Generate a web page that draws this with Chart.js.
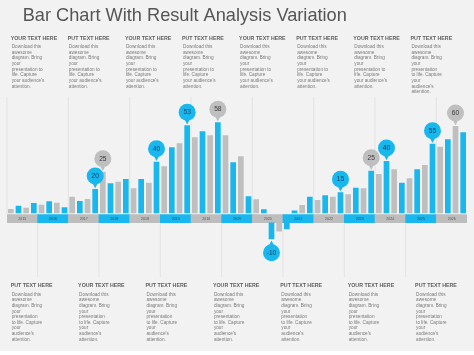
<!DOCTYPE html>
<html><head><meta charset="utf-8">
<script src="https://cdn.jsdelivr.net/npm/chart.js@4.4.0/dist/chart.umd.min.js"></script>
<style>html,body{margin:0;padding:0;background:#fff;}canvas{display:block;}</style>
</head><body>
<canvas id="c" width="474" height="355"></canvas>
<script>
// ---------- DATA ----------
const titleText = 'Bar Chart With Result Analysis Variation';
const yearLabels = ['2015','2016','2017','2018','2018','2015','2016','2019','2020','2021','2022','2023','2024','2025','2026'];
const barValues = [
  2.9, 5.1, 3.7, 6.9,   5.7, 8.0, 7.1, 4.0,   11.1, 8.2, 9.5, 16.2,
  27.7, 20.0, 21.1, 22.9,   16.7, 22.9, 20.4, 34.4,   31.3, 44.0, 46.7, 58.7,
  50.7, 54.7, 52.0, 60.7,   52.0, 34.0, 38.0, 11.3,   9.3, 2.7, -11.1, -6.0,
  -4.4, 1.8, 5.5, 11.1,   8.9, 12.0, 11.1, 14.0,   12.7, 17.1, 16.7, 28.4,
  26.2, 34.9, 29.3, 20.4,   23.3, 29.3, 32.2, 46.4,   44.4, 49.3, 58.2, 54.0
];
// which series each bar belongs to (A = grey series, B = blue series)
const barSeries = ('ABABABABABABABABABABABABABABABABAB' + 'BABB' + 'ABABABABABABABABABABAB').split('');
const categories = barValues.map((_, i) => yearLabels[Math.floor(i / 4)] + ' #' + (i % 4 + 1));
const calloutIndex  = [11, 12, 19, 23, 27, 34, 43, 47, 49, 55, 58];
const calloutText   = ['20','25','40','53','58','-10','15','25','40','55','60'];
const calloutSeries = ['B','A','B','B','A','B','B','A','B','B','A'];
const topHeads = ['YOUR TEXT HERE','PUT TEXT HERE','YOUR TEXT HERE','PUT TEXT HERE','YOUR TEXT HERE','PUT TEXT HERE','YOUR TEXT HERE','PUT TEXT HERE'];
const bottomHeads = ['PUT TEXT HERE','YOUR TEXT HERE','PUT TEXT HERE','YOUR TEXT HERE','PUT TEXT HERE','YOUR TEXT HERE','PUT TEXT HERE'];
const bodyShort = ['Download this','awesome','diagram. Bring','your','presentation to','life. Capture',"your audience's",'attention.'];
const bodyLong  = ['Download this','awesome','diagram. Bring','your','presentation','to life. Capture','your',"audience's",'attention.'];

// ---------- STYLE / LAYOUT ----------
const COLORS = { A: '#bfbfbf', B: '#18b7ee' };
const BAND_COLORS = ['#bdbdbd', '#18b7ee'];
const GAP = 6.2, BAND_TOP = -0.8, BAND_BOTTOM = -6.2;
const FONT = '"Liberation Sans", Arial, sans-serif';

function drawBlock(c, x, yHead, head, lines, yBody) {
  c.textAlign = 'left'; c.textBaseline = 'middle';
  c.fillStyle = '#5e5e5e'; c.font = 'bold 5.3px ' + FONT;
  c.fillText(head, x, yHead);
  c.fillStyle = '#7a7a7a'; c.font = '4.7px ' + FONT;
  lines.forEach((l, i) => c.fillText(l, x + 1, yBody + i * 5.65));
}

const decor = {
  id: 'decor',
  beforeDraw(chart) {
    const c = chart.ctx; c.save();
    c.fillStyle = '#ffffff'; c.fillRect(0, 0, 474, 355);
    c.fillStyle = '#f2f2f2'; c.fillRect(0, 0, 474, 351);
    c.fillStyle = '#555555'; c.font = '18.2px ' + FONT; c.textBaseline = 'alphabetic'; c.textAlign = 'left';
    c.fillText(titleText, 22.7, 20.5);
    topHeads.forEach((h, k) => drawBlock(c, 10.7 + 57.1 * k, 38.3, h, k === 7 ? bodyLong : bodyShort, 46.7));
    bottomHeads.forEach((h, k) => drawBlock(c, 10.7 + 67.4 * k, 286, h, bodyLong, 294.3));
    c.restore();
  },
  beforeDatasetsDraw(chart) {
    const c = chart.ctx, xs = chart.scales.xYear;
    const w = xs.getPixelForValue(1) - xs.getPixelForValue(0);
    c.save(); c.strokeStyle = '#dcdcdc'; c.lineWidth = 0.7;
    for (let j = 0; j <= yearLabels.length; j++) {
      const x = xs.getPixelForValue(0) - w / 2 + j * w;
      c.beginPath();
      if (j % 2 === 0) { c.moveTo(x, 97); c.lineTo(x, 214); }
      else if (j < yearLabels.length) { c.moveTo(x, 223); c.lineTo(x, 277); }
      c.stroke();
    }
    c.restore();
  },
  afterDatasetsDraw(chart) {
    const c = chart.ctx; c.save();
    const band = chart.getDatasetMeta(1).data;
    c.font = '3.6px ' + FONT; c.textAlign = 'center'; c.textBaseline = 'middle';
    band.forEach((el, i) => {
      c.fillStyle = i % 2 ? '#1d4a6b' : '#555';
      c.fillText(yearLabels[i], el.x, (el.y + el.base) / 2);
    });
    const bars = chart.getDatasetMeta(0).data;
    calloutIndex.forEach((idx, k) => {
      const el = bars[idx];
      const up = barValues[idx] >= 0;
      const cy = up ? el.y - 13 : el.y + 13.5;
      const r = 8.5;
      c.fillStyle = COLORS[calloutSeries[k]];
      c.beginPath(); c.arc(el.x, cy, r, 0, Math.PI * 2); c.fill();
      c.beginPath();
      const d = up ? 1 : -1;
      c.moveTo(el.x - 3, cy + d * 6.5); c.lineTo(el.x + 3, cy + d * 6.5); c.lineTo(el.x, cy + d * 12.3);
      c.closePath(); c.fill();
      c.fillStyle = calloutSeries[k] === 'B' ? '#163c5a' : '#3a3a3a';
      c.font = '6.6px ' + FONT; c.textAlign = 'center'; c.textBaseline = 'middle';
      c.fillText(calloutText[k], el.x, cy + 0.3);
    });
    c.restore();
  }
};

new Chart(document.getElementById('c'), {
  type: 'bar',
  data: {
    labels: categories,
    datasets: [
      {
        label: 'Result',
        data: barValues.map(v => v >= 0 ? [0, v] : [-GAP, -GAP + v]),
        backgroundColor: barSeries.map(s => COLORS[s]),
        xAxisID: 'x', yAxisID: 'y',
        barPercentage: 0.74, categoryPercentage: 1, grouped: false, borderWidth: 0
      },
      {
        label: 'Years',
        data: yearLabels.map(() => [BAND_TOP, BAND_BOTTOM]),
        backgroundColor: yearLabels.map((_, i) => BAND_COLORS[i % 2]),
        xAxisID: 'xYear', yAxisID: 'y',
        barPercentage: 1, categoryPercentage: 1, grouped: false, borderWidth: 0
      }
    ]
  },
  options: {
    responsive: false, animation: false, devicePixelRatio: 1,
    layout: { padding: { left: 7, right: 7, top: 93.3, bottom: 51.7 } },
    plugins: { legend: { display: false }, tooltip: { enabled: false }, title: { display: false } },
    scales: {
      x: { type: 'category', display: false, offset: true },
      xYear: { type: 'category', labels: yearLabels, display: false, offset: true },
      y: { display: false, min: -60, max: 80 }
    }
  },
  plugins: [decor]
});
</script>
</body></html>
